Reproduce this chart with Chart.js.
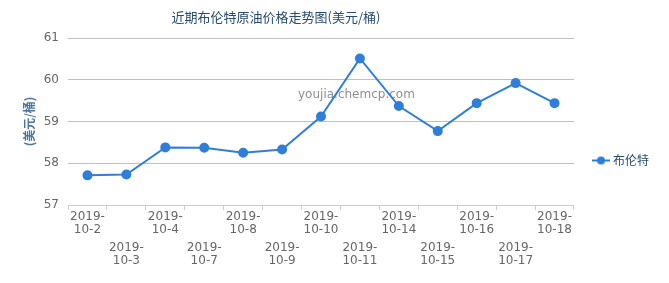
<!DOCTYPE html>
<html>
<head>
<meta charset="utf-8">
<script src="https://cdn.jsdelivr.net/npm/chart.js@4"></script>
<style>
  html, body { margin: 0; padding: 0; background: #fff; }
  #wrap { width: 669px; height: 283px; position: relative; }
</style>
</head>
<body>
<div id="wrap"><canvas id="myChart"></canvas></div>
<script>
const labels = ['2019-10-2', '2019-10-3', '2019-10-4', '2019-10-7', '2019-10-8', '2019-10-9',
  '2019-10-10', '2019-10-11', '2019-10-14', '2019-10-15', '2019-10-16', '2019-10-17', '2019-10-18'];
const brent = [57.71, 57.73, 58.38, 58.37, 58.25, 58.33, 59.12, 60.51, 59.37, 58.77, 59.44, 59.92, 59.44];
const yTicks = [57, 58, 59, 60, 61];
const seriesName = '布伦特';
const titleText = '近期布伦特原油价格走势图(美元/桶)';
const unitText = '(美元/桶)';
const watermark = 'youjia.chemcp.com';

const lineColor = '#2f7ed8';
const tickFont = { family: 'DejaVu Sans', size: 12, lineHeight: 1.1 };

// legend marker: short line with a dot, like the original
const marker = document.createElement('canvas');
marker.width = 18; marker.height = 10;
(function () {
  const c = marker.getContext('2d');
  c.strokeStyle = lineColor; c.lineWidth = 2;
  c.beginPath(); c.moveTo(0, 5); c.lineTo(18, 5); c.stroke();
  c.fillStyle = lineColor;
  c.beginPath(); c.arc(9, 5, 4, 0, Math.PI * 2); c.fill();
})();

const splitLabel = (s) => {
  const i = s.indexOf('-');
  return [s.slice(0, i + 1), s.slice(i + 1)];
};

const extras = {
  id: 'extras',
  beforeDatasetsDraw(chart) {
    const ctx = chart.ctx;
    ctx.save();
    ctx.font = '12px "DejaVu Sans"';
    ctx.fillStyle = '#8f8f8f';
    ctx.textBaseline = 'middle';
    ctx.fillText(watermark, 298, 95);
    ctx.restore();
  },
  afterDraw(chart) {
    const ctx = chart.ctx;
    ctx.save();
    ctx.font = '13px "Noto Sans CJK SC"';
    ctx.fillStyle = '#274b6d';
    ctx.textAlign = 'center';
    ctx.textBaseline = 'middle';
    ctx.fillText(titleText, 276, 17);
    ctx.restore();
  }
};

const data = {
  labels: labels,
  datasets: [{
    label: seriesName,
    data: brent,
    borderColor: lineColor,
    backgroundColor: lineColor,
    borderWidth: 2,
    pointRadius: 4,
    pointHoverRadius: 5,
    tension: 0,
    xAxisID: 'x',
    yAxisID: 'y'
  }]
};

const config = {
  type: 'line',
  data: data,
  options: {
    responsive: true,
    maintainAspectRatio: false,
    animation: false,
    layout: { padding: { top: 38, left: 0, right: 10, bottom: 0 } },
    plugins: {
      title: { display: false },
      tooltip: { enabled: false },
      legend: {
        position: 'right',
        labels: {
          color: '#274b6d',
          font: { family: 'Noto Sans CJK SC', size: 12 },
          usePointStyle: true,
          padding: 21,
          generateLabels(chart) {
            return [{
              text: seriesName,
              pointStyle: marker,
              fillStyle: lineColor,
              strokeStyle: lineColor,
              fontColor: '#274b6d',
              datasetIndex: 0,
              hidden: false
            }];
          }
        }
      }
    },
    scales: {
      x: {
        type: 'category',
        position: 'bottom',
        offset: true,
        grid: {
          display: true,
          offset: true,
          drawOnChartArea: false,
          drawTicks: true,
          tickLength: 5,
          color: '#c0d0e0'
        },
        border: { display: true, color: '#c0d0e0', width: 1 },
        ticks: {
          autoSkip: false,
          maxRotation: 0,
          minRotation: 0,
          padding: 0,
          color: '#666',
          font: tickFont,
          callback: function (v, i) { return i % 2 === 0 ? splitLabel(labels[i]) : ''; }
        },
        afterFit(scale) { scale.height = 32; }
      },
      x2: {
        type: 'category',
        position: 'bottom',
        offset: true,
        grid: { display: false },
        border: { display: false },
        ticks: {
          autoSkip: false,
          maxRotation: 0,
          minRotation: 0,
          padding: -4,
          color: '#666',
          font: tickFont,
          callback: function (v, i) { return i % 2 === 1 ? splitLabel(labels[i]) : ''; }
        },
        afterFit(scale) { scale.height = 46; }
      },
      y: {
        min: yTicks[0],
        max: yTicks[yTicks.length - 1],
        afterBuildTicks(scale) { scale.ticks = yTicks.map(v => ({ value: v })); },
        grid: { color: '#c0c0c0', drawTicks: false },
        border: { display: false },
        ticks: { color: '#666', font: tickFont, padding: 9 },
        title: {
          display: true,
          text: unitText,
          color: '#4d759e',
          font: { family: 'Noto Sans CJK SC', size: 12, weight: 'bold' },
          padding: { top: 22, bottom: 0 }
        },
        afterFit(scale) { scale.width = 68; }
      }
    }
  },
  plugins: [extras]
};

new Chart(document.getElementById('myChart'), config);
</script>
</body>
</html>
